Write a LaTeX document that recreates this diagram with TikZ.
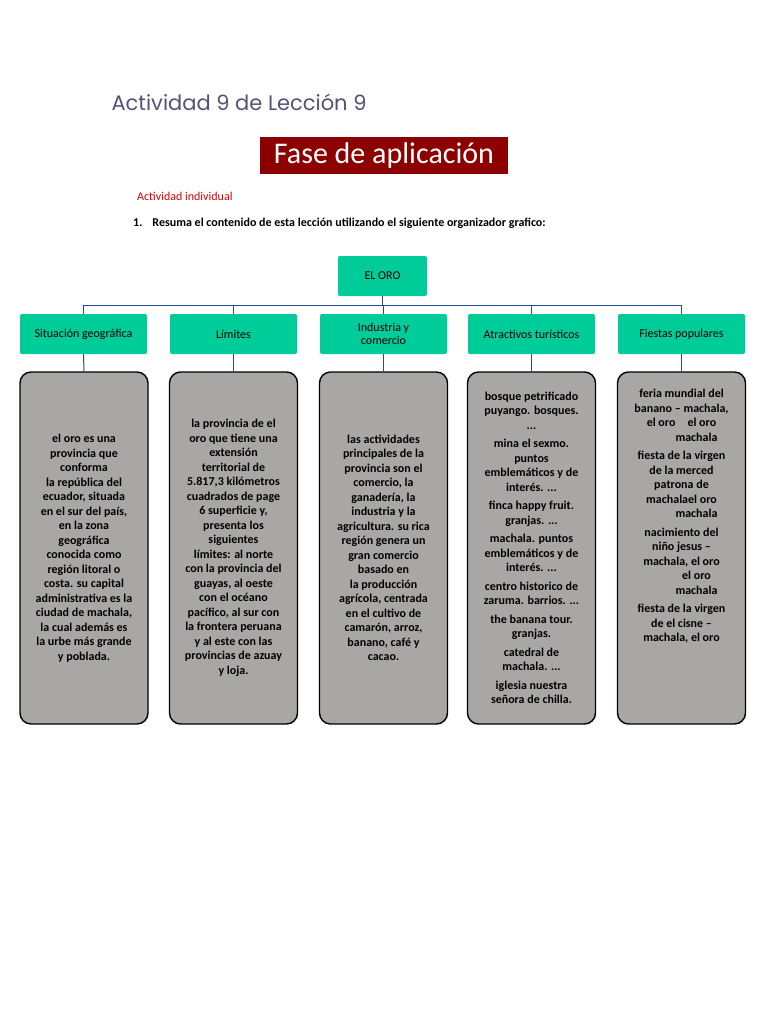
\documentclass[tikz,border=0pt]{standalone}
\usepackage{fontspec}
\setmainfont{Carlito}
\newfontfamily\popp{Poppins}
\begin{document}
\begin{tikzpicture}[x=1pt,y=-1pt,
  grn/.style={draw=none,fill=green!55!teal!70!cyan,fill=gcol,rounded corners=2pt,minimum width=127pt,minimum height=40pt,font=\fontsize{12}{13}\selectfont,align=center,inner sep=2pt},
  gry/.style={draw=black,line width=1.4pt,fill=gcl,rounded corners=11pt,minimum width=128pt,minimum height=352pt,font=\bfseries\fontsize{12}{14.5}\selectfont,align=center,inner sep=2pt},
  con/.style={draw=lnc,line width=1pt}]
\definecolor{gcol}{HTML}{00CC99}
\definecolor{gcl}{HTML}{A9A6A6}
\definecolor{lnc}{HTML}{1F4E9A}
\useasboundingbox (0,0) rectangle (768,1024);
\fill[white] (0,0) rectangle (768,1024);
\node[anchor=west,text=black!60!blue!35!gray,font=\popp\fontsize{21}{24}\selectfont] (t1) at (108,102) {Actividad 9 de Lección 9};
\node[fill=red!55!black,text=white,minimum width=248pt,minimum height=37pt,inner sep=0pt,font=\fontsize{30}{32}\selectfont] (t2) at (384,155.5) {Fase de aplicación};
\node[anchor=west,text=red!85!black,font=\fontsize{12}{14}\selectfont,inner sep=0pt] (t3) at (137,196) {Actividad individual};
\node[anchor=west,font=\bfseries\fontsize{12}{14}\selectfont,inner sep=0pt] (t4) at (133,223) {1.\hspace{10pt}Resuma el contenido de esta lección utilizando el siguiente organizador grafico:};
\node[grn,minimum width=89pt] (oro) at (382.5,276) {EL ORO};
\node[grn] (g1) at (83.5,334) {Situación geográfica};
\node[grn] (g2) at (233.5,334) {Límites};
\node[grn] (g3) at (383.5,334) {Industria y\\comercio};
\node[grn] (g4) at (531.5,334) {Atractivos turísticos};
\node[grn] (g5) at (681.5,334) {Fiestas populares};
\coordinate (hl) at (382.5,305);
\draw[con] (oro.south) -- (hl);
\foreach \g in {g1,g2,g3,g4,g5}{\draw[con] (hl) -| (\g.north);}
\node[gry] (b1) at (84,548) {el oro es una\\provincia que\\conforma\\la república del\\ecuador, situada\\en el sur del país,\\en la zona\\geográfica\\conocida como\\región litoral o\\costa. su capital\\administrativa es la\\ciudad de machala,\\la cual además es\\la urbe más grande\\y poblada.};
\node[gry] (b2) at (233.5,548) {la provincia de el\\oro que tiene una\\extensión\\territorial de\\5.817,3 kilómetros\\cuadrados de page\\6 superficie y,\\presenta los\\siguientes\\límites: al norte\\con la provincia del\\guayas, al oeste\\con el océano\\pacífico, al sur con\\la frontera peruana\\y al este con las\\provincias de azuay\\y loja.};
\node[gry] (b3) at (383.5,548) {las actividades\\principales de la\\provincia son el\\comercio, la\\ganadería, la\\industria y la\\agricultura. su rica\\región genera un\\gran comercio\\basado en\\la producción\\agrícola, centrada\\en el cultivo de\\camarón, arroz,\\banano, café y\\cacao.};
\node[gry] (b4) at (531.5,548) {bosque petrificado\\puyango. bosques.\\...\\[4pt]mina el sexmo.\\puntos\\emblemáticos y de\\interés. ...\\[4pt]finca happy fruit.\\granjas. ...\\[4pt]machala. puntos\\emblemáticos y de\\interés. ...\\[4pt]centro historico de\\zaruma. barrios. ...\\[4pt]the banana tour.\\granjas.\\[4pt]catedral de\\machala. ...\\[4pt]iglesia nuestra\\señora de chilla.};
\node[gry] (b5) at (681.5,548) {feria mundial del\\banano -- machala,\\el oro\quad el oro\\\hspace*{30pt}machala\\[4pt]fiesta de la virgen\\de la merced\\patrona de\\machalael oro\\\hspace*{30pt}machala\\[4pt]nacimiento del\\niño jesus --\\machala, el oro\\\hspace*{30pt}el oro\\\hspace*{30pt}machala\\[4pt]fiesta de la virgen\\de el cisne --\\machala, el oro\\[50pt]};
\foreach \i in {1,...,5}{\draw[con] (g\i.south) -- (b\i.north);}
\end{tikzpicture}
\end{document}
